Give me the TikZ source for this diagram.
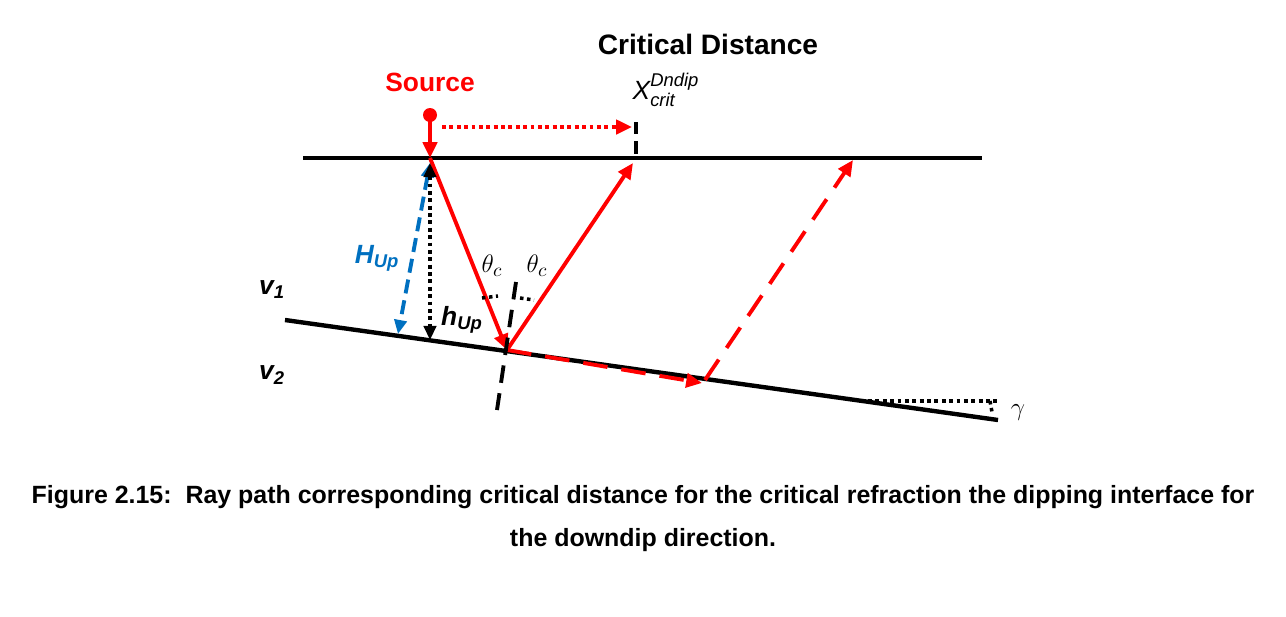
\documentclass[tikz,border=0pt]{standalone}
\usepackage{fontspec}
\setmainfont{Liberation Sans}
\usetikzlibrary{arrows.meta}
\definecolor{rred}{RGB}{255,0,0}
\definecolor{bblue}{RGB}{0,112,192}
\begin{document}
\begin{tikzpicture}[x=0.02cm,y=-0.02cm,
  ray/.style={rred,line width=2.2pt,-{Triangle[length=9pt,width=8pt]}},
  line/.style={black,line width=2.5pt},
  lab/.style={font=\bfseries\itshape\fontsize{15}{15}\selectfont}]
\useasboundingbox (0,0) rectangle (1286,616);
% surface and interface
\coordinate (s1) at (303,158); \coordinate (s2) at (982,158);
\coordinate (i1) at (285,320); \coordinate (i2) at (998,420);
\draw[line] (s1) -- (s2);
\draw[line] (i1) -- (i2);
% source
\coordinate (src) at (430,158);
\fill[rred] (430,115) circle (7);
\coordinate (srctop) at (430,115);
\draw[ray] (srctop) -- (src);
% critical distance
\coordinate (d1) at (442,127); \coordinate (d2) at (632,127);
\draw[rred,line width=2.2pt,dotted,-{Triangle[length=9pt,width=8pt]}] (d1) -- (d2);
\coordinate (t1) at (636,122); \coordinate (t2) at (636,158);
\draw[line,dash pattern=on 7pt off 4pt] (t1) -- (t2);
% rays
\coordinate (crit) at (507,350);
\coordinate (up1) at (633,163);
\draw[ray] (src) -- (crit);
\draw[ray] (crit) -- (up1);
\coordinate (hd) at (702,383);
\coordinate (hs) at (705,380);
\coordinate (up2) at (853,160);
\draw[ray,dash pattern=on 14pt off 8pt] (crit) -- (hd);
\draw[ray,dash pattern=on 14pt off 8pt] (hs) -- (up2);
% normal
\coordinate (n1) at (516,282); \coordinate (n2) at (497,410);
\draw[line,line width=2.2pt,dash pattern=on 10pt off 6pt] (n1) -- (n2);
% thickness arrows
\coordinate (hb1) at (430,163); \coordinate (hb2) at (398,334);
\draw[bblue,line width=2.2pt,dash pattern=on 8pt off 4pt,{Triangle[length=8pt,width=7pt]}-{Triangle[length=8pt,width=7pt]}] (hb1) -- (hb2);
\coordinate (hk1) at (430,163); \coordinate (hk2) at (430,340);
\draw[black,line width=2.2pt,dotted,{Triangle[length=8pt,width=7pt]}-{Triangle[length=8pt,width=7pt]}] (hk1) -- (hk2);
% angle marks
\draw[black,line width=2pt,dotted] (482,298) -- (498,296);
\draw[black,line width=2pt,dotted] (520,298) -- (534,300);
% gamma
\coordinate (g1) at (868,401); \coordinate (g2) at (1000,401);
\draw[black,line width=2.2pt,dotted] (g1) -- (g2);
\draw[black,line width=2pt,dotted] (990,401) -- (992,412);
% labels
\node[rred,font=\bfseries\fontsize{15}{15}\selectfont] (srcl) at (430,82) {Source};
\node[font=\bfseries\fontsize{16}{16}\selectfont] (cdl) at (708,44) {Critical Distance};
\node[font=\itshape\fontsize{15}{15}\selectfont] (xl) at (666,90) {$\mathit{X}^{\mathit{Dndip}}_{\mathit{crit}}$};
\node[bblue,lab] (Hl) at (377,258) {H\textsubscript{Up}};
\node[lab] (hl) at (462,320) {h\textsubscript{Up}};
\node[font=\fontsize{15}{15}\selectfont] (th1) at (492,266) {$\theta_c$};
\node[font=\fontsize{15}{15}\selectfont] (th2) at (537,266) {$\theta_c$};
\node[lab] (v1) at (272,290) {v\textsubscript{1}};
\node[lab] (v2) at (272,375) {v\textsubscript{2}};
\node[font=\fontsize{15}{15}\selectfont] (gl) at (1018,413) {$\gamma$};
\node[font=\bfseries\fontsize{14.2}{16}\selectfont] (cap1) at (643,497) {Figure 2.15:\ \ Ray path corresponding critical distance for the critical refraction the dipping interface for};
\node[font=\bfseries\fontsize{14.2}{16}\selectfont] (cap2) at (643,540) {the downdip direction.};
\end{tikzpicture}
\end{document}
